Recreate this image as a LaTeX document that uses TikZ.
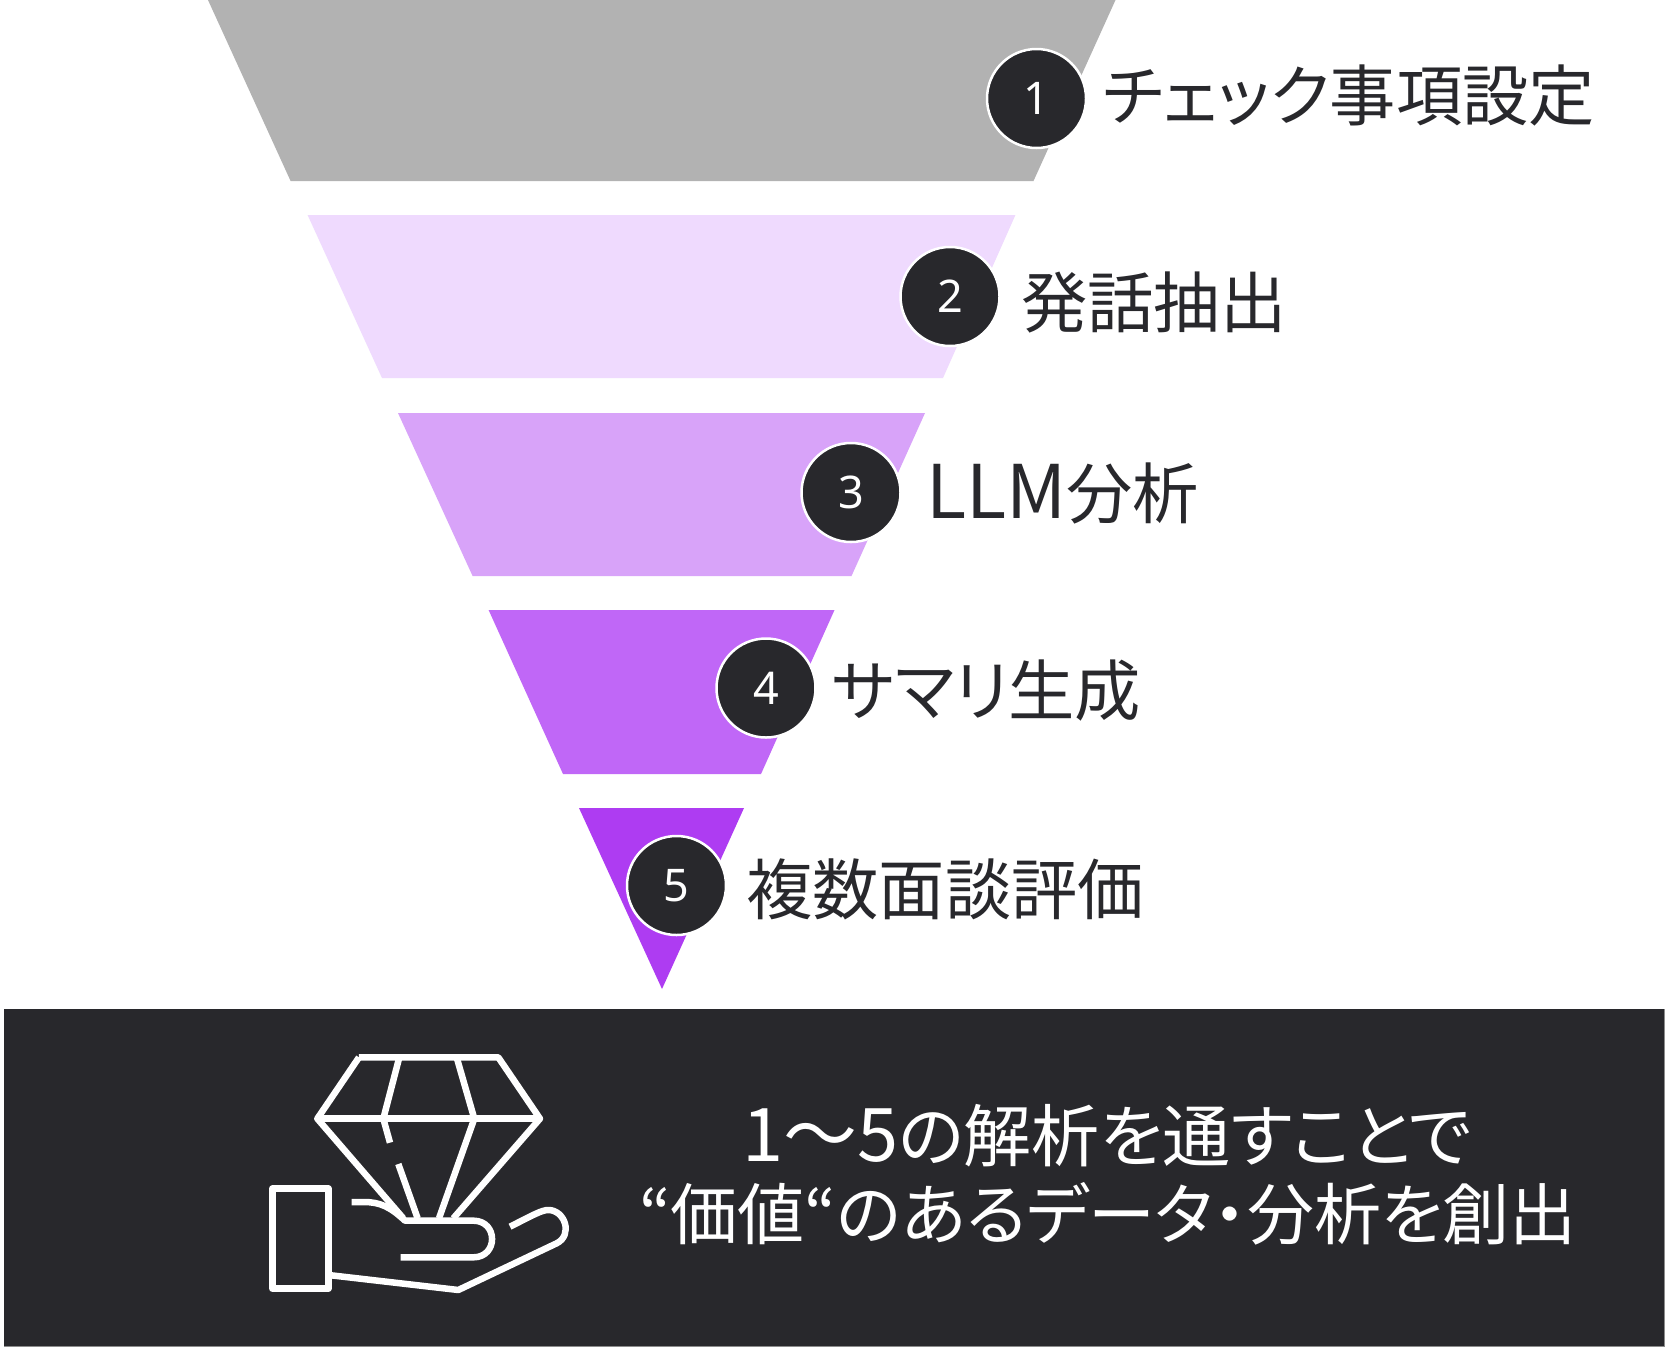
\documentclass[tikz,border=0pt]{standalone}
\usepackage{fontspec}
\setmainfont[RawFeature=+palt]{Noto Sans CJK JP}
\newfontfamily\numfont{Noto Sans}
\definecolor{ink}{HTML}{28282C}
\definecolor{fa}{HTML}{B2B2B2}
\definecolor{fb}{HTML}{EFDAFE}
\definecolor{fc}{HTML}{D8A3F9}
\definecolor{fd}{HTML}{C067F7}
\definecolor{fe}{HTML}{AE3CF2}
\newcommand{\bigtxt}[1]{{\fontsize{74}{74}\selectfont #1}}
\tikzset{
  badge/.style={circle,fill=ink,draw=white,line width=2.5pt,minimum size=99pt,inner sep=0pt,text=white,font=\numfont\fontsize{45}{45}\selectfont},
  lab/.style={anchor=base west,inner sep=0pt,text=ink,font=\fontsize{66.3}{66.3}\selectfont},
  foot/.style={anchor=base,inner sep=0pt,text=white,font=\fontsize{67}{67}\selectfont},
  icon/.style={draw=white,line width=6.5pt,line join=round}
}
\begin{document}
\begin{tikzpicture}[x=1pt,y=-1pt]
\useasboundingbox (0,0) rectangle (1669,1350);
\fill[white] (0,0) rectangle (1669,1350);
\fill[fa] (208,0) -- (1115.5,0) -- (1033.5,181) -- (290.6,181) -- cycle;
\fill[fb] (307.6,215) -- (1015.4,215) -- (943,378) -- (382,378) -- cycle;
\fill[fc] (398,413) -- (925,413) -- (851.5,576) -- (472.6,576) -- cycle;
\fill[fd] (488.6,610) -- (834.5,610) -- (761,774) -- (563,774) -- cycle;
\fill[fe] (579,808) -- (744,808) -- (662,989) -- cycle;
\fill[ink] (4,1009) rectangle (1663.5,1345.5);
\draw[black!45,line width=1pt] (4,1346) -- (1664,1346) -- (1664,1009);
\node[badge] (b1) at (1036.5,98.5) {1};
\node[badge] (b2) at (950,296.5) {2};
\node[badge] (b3) at (851,492.5) {3};
\node[badge] (b4) at (766,688) {4};
\node[badge] (b5) at (676.5,885.5) {5};
\node[lab] (t1) at (1103,120) {チェック事項設定};
\node[lab] (t2) at (1021,327) {発話抽出};
\node[lab] (t3) at (926,518) {\bigtxt{LLM}分析};
\node[lab] (t4) at (832,715) {サマリ生成};
\node[lab] (t5) at (746,914) {複数面談評価};
\node[foot,font=\fontsize{68}{68}\selectfont] (f1) at (1107,1161) {\bigtxt{1～5}の解析を通すことで};
\node[foot] (f2) at (1108,1239) {“価値“のあるデータ・分析を創出};
\begin{scope}[shift={(240,1030)},x=0.3333pt,y=-0.3333pt]
\draw[icon] (357,82) -- (775,82) -- (900,266) -- (640,565);
\draw[icon] (357,82) -- (232,266) -- (490,565);
\draw[icon] (232,266) -- (900,266);
\draw[icon] (478,82) -- (430,266) -- (450,338);
\draw[icon] (475,402) -- (533,565);
\draw[icon] (650,82) -- (703,266) -- (597,565);
\draw[icon] (335,516) -- (370,516) .. controls (420,516) and (450,530) .. (495,572) -- (700,572) .. controls (775,572) and (775,682) .. (700,682) -- (482,682);
\draw[icon] (97,476) rectangle (265,776);
\draw[icon] (265,735) -- (655,780) -- (950,640) .. controls (1000,615) and (975,540) .. (925,540) .. controls (905,540) and (880,555) .. (810,590);
\end{scope}
\end{tikzpicture}
\end{document}
